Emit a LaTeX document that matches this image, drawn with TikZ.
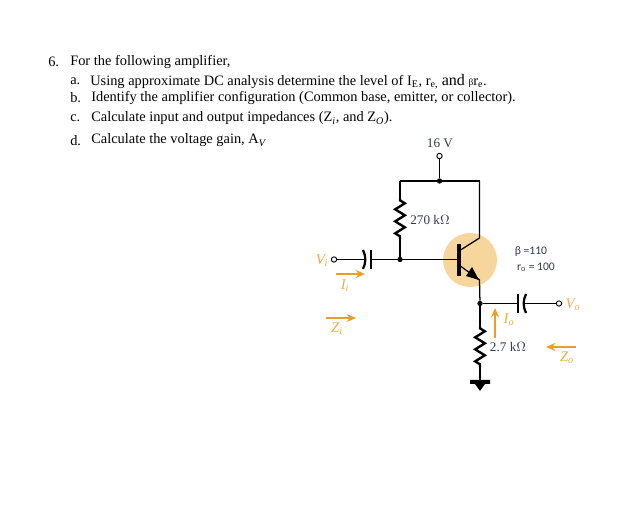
\documentclass[tikz,border=0pt]{standalone}
\usepackage{fontspec}
\setmainfont{Liberation Serif}
\newfontfamily\notefont{Carlito}
\usetikzlibrary{arrows.meta,decorations.pathmorphing}
\definecolor{amber}{HTML}{E89F25}
\definecolor{halo}{HTML}{F6D69C}
\definecolor{inkgrey}{HTML}{33394A}
\tikzset{
    wire/.style = {line width=0.95pt},
    plate/.style = {line width=1.7pt},
    res/.style = {line width=1.8pt, decorate,
        decoration={zigzag, segment length=9pt, amplitude=3.6pt,
            pre length=1pt, post length=1pt}},
    term/.style = {circle, draw, line width=0.7pt, fill=white, inner sep=0pt, minimum size=4pt},
    dot/.style = {circle, fill, inner sep=0pt, minimum size=4pt},
    flow/.style = {amber, line width=1.3pt, -{Stealth[length=7pt,width=6pt]}},
    line/.style = {anchor=west, inner sep=0pt, font=\fontsize{10.8}{12}\selectfont},
    val/.style = {inner sep=0pt, text=inkgrey, font=\fontsize{9.9}{11}\selectfont},
    orange/.style = {inner sep=0pt, text=amber!85!white, font=\fontsize{11}{12}\selectfont\itshape},
    note/.style = {inner sep=0pt, text=inkgrey, font=\notefont\fontsize{8.7}{10}\selectfont}
}
\begin{document}
\begin{tikzpicture}[x=0.75pt, y=-0.75pt]
\useasboundingbox (0,0) rectangle (640,530);
% question text
\node[line] (q6) at (48,61.5) {6.};
\node[line] (qhead) at (70,61.5) {For the following amplifier,};
\node[line] (qa) at (70,81.5) {a.};
\node[line] (qatext) at (90,81.5) {Using approximate DC analysis determine the level of I\textsubscript{E}, r\textsubscript{e,} {\fontsize{12}{12}\selectfont and} {\fontsize{7}{7}\selectfont β}r\textsubscript{e}.};
\node[line] (qb) at (70,98) {b.};
\node[line] (qbtext) at (91,98) {Identify the amplifier configuration (Common base, emitter, or collector).};
\node[line] (qc) at (70,118.5) {c.};
\node[line] (qctext) at (91,118.5) {Calculate input and output impedances (Z\textsubscript{\textit{i}}, and Z\textsubscript{\textit{O}}).};
\node[line] (qd) at (70,140.5) {d.};
\node[line] (qdtext) at (91,140.5) {Calculate the voltage gain, A\textsubscript{\textit{V}}};
% transistor halo first
\fill[halo] (470,260) circle (27);
% nodes of the circuit
\node[val] (vcclabel) at (440,143) {16 V};
\node[term] (vcc) at (439.5,156) {};
\node[dot] (top) at (439.5,181) {};
\coordinate (topleft) at (400,181);
\coordinate (topright) at (479.5,181);
\coordinate (rbtop) at (400,199);
\coordinate (rbbot) at (400,239);
\node[dot] (base) at (400,259.5) {};
\node[term] (vin) at (334,259.5) {};
\coordinate (c1a) at (365,259.5);
\coordinate (c1b) at (371,259.5);
\coordinate (bar) at (459,259.5);
\coordinate (barc) at (459,251);
\coordinate (bare) at (459,265);
\coordinate (coll) at (479.5,238);
\coordinate (emit) at (479.5,280);
\node[dot] (out) at (480,303.5) {};
\coordinate (c2a) at (518,303.5);
\coordinate (c2b) at (523,303.5);
\node[term] (vout) at (559,303.5) {};
\coordinate (retop) at (480,327);
\coordinate (rebot) at (480,367);
\coordinate (gnd) at (480,380);
% wires
\draw[wire] (vcc) -- (top);
\draw[wire] (topleft) -- (topright);
\draw[wire] (topleft) -- (rbtop);
\draw[res] (rbtop) -- (rbbot);
\draw[wire] (rbbot) -- (base);
\draw[wire] (vin) -- (c1a);
\draw[wire] (c1b) -- (bar);
\draw[wire] (topright) -- (coll) -- (barc);
\draw[wire] (bare) -- (emit) -- (out);
\draw[wire] (out) -- (c2a);
\draw[wire] (c2b) -- (vout);
\draw[wire] (out) -- (retop);
\draw[res] (retop) -- (rebot);
\draw[wire] (rebot) -- (gnd);
% capacitors
\draw[plate] (363,250) to[bend left=25] (363,269);
\draw[plate] (371,250) -- (371,269);
\draw[plate] (518,294) -- (518,313);
\draw[plate] (526,294) to[bend right=25] (526,313);
% transistor
\draw[line width=3.2pt] (459,244) -- (459,276);
\fill (479,280) -- (466,276) -- (472,267) -- cycle;
% ground
\fill (470,380) -- (490,380) -- (490,384) -- (485,384) -- (480,391) -- (475,384) -- (470,384) -- cycle;
% values
\node[val] (rblabel) at (430,220) {270 k$\Omega$};
\node[val] (relabel) at (508,347) {2.7 k$\Omega$};
\node[note] (betalabel) at (531,252) {β =110};
\node[note] (rolabel) at (536,267) {r\textsubscript{o} = 100};
% orange labels
\node[orange] (vilabel) at (322,261) {V\textsubscript{\textit{i}}};
\node[orange] (volabel) at (573,305) {V\textsubscript{\textit{o}}};
\node[orange] (iilabel) at (345,286) {I\textsubscript{\textit{i}}};
\node[orange] (iolabel) at (509,320) {I\textsubscript{\textit{o}}};
\node[orange] (zilabel) at (337,329) {Z\textsubscript{\textit{i}}};
\node[orange] (zolabel) at (567,358) {Z\textsubscript{\textit{o}}};
\coordinate (iitail) at (336,274);
\coordinate (iihead) at (365,274);
\coordinate (zitail) at (326,318);
\coordinate (zihead) at (356,318);
\coordinate (iotail) at (495,338);
\coordinate (iohead) at (495,308);
\coordinate (zotail) at (576,347);
\coordinate (zohead) at (546,347);
\draw[flow] (iitail) -- (iihead);
\draw[flow] (zitail) -- (zihead);
\draw[flow] (iotail) -- (iohead);
\draw[flow] (zotail) -- (zohead);
\end{tikzpicture}
\end{document}
